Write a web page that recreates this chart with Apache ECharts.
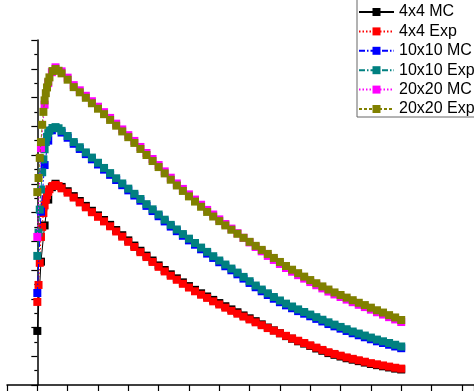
<!DOCTYPE html>
<html>
<head>
<meta charset="utf-8">
<script src="https://cdn.jsdelivr.net/npm/echarts@6/dist/echarts.min.js"></script>
<style>html,body{margin:0;padding:0;background:#fff;}#c{width:474px;height:391px;}</style>
</head>
<body>
<div id="c"></div>
<script>
// depth (x) positions
const expX = [0,0.1,0.2,0.3,0.4,0.5,0.6,0.7,0.8,0.9,1.0,1.25,1.5,1.75,
  2,2.5,3,3.5,4,4.5,5,5.5,6,6.5,7,7.5,8,8.5,9,9.5,10,10.5,11,11.5,12,12.5,13,13.5,14,14.5,15,15.5,16,16.5,17,17.5,18,18.5,19,19.5,20,20.5,21,21.5,22,22.5,23,23.5,24,24.5,25,25.5,26,26.5,27,27.5,28,28.5,29,29.5,30];
const mcX = [0,0.3,0.6,0.9,1.2,1.5,
  2,2.5,3,3.5,4,4.5,5,5.5,6,6.5,7,7.5,8,8.5,9,9.5,10,10.5,11,11.5,12,12.5,13,13.5,14,14.5,15,15.5,16,16.5,17,17.5,18,18.5,19,19.5,20,20.5,21,21.5,22,22.5,23,23.5,24,24.5,25,25.5,26,26.5,27,27.5,28,28.5,29,29.5,30];

const seriesNames = ['4x4 MC','4x4 Exp','10x10 MC','10x10 Exp','20x20 MC','20x20 Exp'];

const mc4 = [18.8,42.9,55.5,64.5,68.8,70.0,
  68.9,67.4,65.7,64.0,62.3,60.6,59.0,57.4,55.7,53.9,52.1,50.3,48.5,46.7,45.0,43.3,41.6,40.0,38.5,37.1,35.7,34.4,33.1,31.9,30.8,29.6,28.5,27.4,26.3,25.3,24.2,23.2,22.2,21.1,20.0,19.0,18.0,17.0,16.1,15.2,14.4,13.6,12.7,11.9,11.1,10.5,9.9,9.3,8.8,8.3,7.8,7.3,6.9,6.5,6.1,5.7,5.4];
const exp4 = [28.9,34.8,42.5,51.5,55.0,59.8,62.5,64.5,66.0,67.2,68.1,69.2,69.6,69.2,
  68.4,66.9,65.2,63.5,61.8,60.1,58.5,56.9,55.2,53.4,51.6,49.8,48.0,46.2,44.5,42.8,41.1,39.5,38.0,36.6,35.2,33.9,32.6,31.4,30.3,29.1,28.0,26.9,25.8,24.8,23.8,22.8,21.8,20.8,19.8,18.9,18.0,17.1,16.2,15.4,14.6,13.8,13.0,12.2,11.4,10.8,10.2,9.6,9.1,8.6,8.1,7.6,7.2,6.8,6.4,6.0,5.7];
const mc10 = [32.0,60.3,76.5,85.0,88.6,89.4,
  87.8,86.0,83.9,82.1,80.3,78.5,76.7,74.9,73.1,71.3,69.5,67.7,65.9,64.1,62.3,60.5,58.7,56.9,55.1,53.5,51.9,50.3,48.8,47.2,45.7,44.2,42.7,41.3,39.9,38.5,37.0,35.5,34.0,32.6,31.3,30.0,28.8,27.7,26.7,25.7,24.8,23.9,23.0,22.1,21.2,20.4,19.6,18.8,18.0,17.3,16.6,15.9,15.2,14.6,14.0,13.4,12.8];
const exp10 = [44.9,53.0,61.0,68.0,74.0,78.5,82.0,84.5,86.3,87.6,88.5,89.4,89.7,89.3,
  88.4,86.6,84.5,82.7,80.9,79.1,77.3,75.5,73.7,71.9,70.1,68.3,66.5,64.7,62.9,61.1,59.3,57.5,55.7,54.1,52.5,50.9,49.4,47.8,46.3,44.8,43.3,41.9,40.5,39.1,37.6,36.1,34.6,33.2,31.9,30.6,29.4,28.3,27.3,26.3,25.4,24.5,23.6,22.7,21.8,21.0,20.2,19.4,18.6,17.9,17.2,16.5,15.8,15.2,14.6,14.0,13.4];
const mc20 = [51.5,82.4,97.5,105.0,108.8,110.5,
  109.1,106.9,104.3,102.5,100.6,98.7,96.8,94.9,92.9,90.9,88.9,86.9,84.9,82.8,80.7,78.6,76.5,74.3,72.1,70.1,68.2,66.3,64.5,62.7,60.9,59.3,57.6,56.0,54.4,52.8,51.2,49.6,48.0,46.5,44.9,43.5,42.1,40.7,39.4,38.2,37.0,35.8,34.7,33.6,32.5,31.5,30.6,29.7,28.8,27.9,27.1,26.2,25.3,24.5,23.6,22.8,21.9];
const exp20 = [67.1,72.0,79.0,84.5,90.5,95.0,99.0,101.5,103.5,105.5,107.0,109.2,109.9,109.3,
  108.4,106.2,103.6,101.8,99.9,98.0,96.1,94.2,92.2,90.2,88.2,86.2,84.2,82.1,80.0,77.9,75.8,73.6,71.4,69.4,67.5,65.6,63.8,62.0,60.2,58.6,57.0,55.5,54.0,52.6,51.2,49.8,48.4,47.0,45.6,44.2,42.8,41.4,40.1,38.9,37.7,36.5,35.4,34.3,33.2,32.2,31.3,30.4,29.5,28.6,27.8,26.9,26.0,25.2,24.3,23.5,22.6];

const colors = ['#000000','#ff0000','#0000ff','#008080','#ff00ff','#808000'];
const lineTypes = ['solid',[1.5,2],[6,2,1.5,2],[6,2,1.5,2],[1.5,2],[3,2]];
const ys = [mc4, exp4, mc10, exp10, mc20, exp20];
const xs = [mcX, expX, mcX, expX, mcX, expX];

function pairs(x, y){ return x.map((v,i)=>[v,y[i]]); }

const chart = echarts.init(document.getElementById('c'), null, {renderer:'canvas'});
chart.setOption({
  animation:false,
  backgroundColor:'#ffffff',
  textStyle:{fontFamily:'"Liberation Sans", Arial, sans-serif'},
  grid:{left:7, right:0, top:40, bottom:6, containLabel:false},
  xAxis:{
    type:'value', min:-2.5, max:36, interval:2.5,
    axisLine:{show:true, lineStyle:{color:'#000', width:1.5}},
    axisTick:{show:true, length:6, inside:false, lineStyle:{color:'#000', width:1.2}},
    minorTick:{show:false},
    axisLabel:{show:false},
    splitLine:{show:false}
  },
  yAxis:{
    type:'value', min:0, max:120, interval:10,
    axisLine:{show:true, lineStyle:{color:'#000', width:1.5}},
    axisTick:{show:true, length:6, inside:false, lineStyle:{color:'#000', width:1.2}},
    minorTick:{show:true, splitNumber:2, length:3, lineStyle:{color:'#000', width:1.2}},
    axisLabel:{show:false},
    splitLine:{show:false}
  },
  legend:{
    orient:'vertical',
    left:357, top:-5,
    padding:[9,10,0,1],
    itemWidth:35, itemHeight:10, itemGap:3.4,
    borderColor:'#666', borderWidth:1,
    backgroundColor:'#fff',
    textStyle:{fontSize:16, color:'#000', lineHeight:14, fontFamily:'"Liberation Sans", Arial, sans-serif'},
    data:seriesNames
  },
  series: seriesNames.map((name,i)=>({
    name:name,
    type:'line',
    data:pairs(xs[i], ys[i]),
    symbol:'rect',
    symbolSize:8,
    showAllSymbol:true,
    itemStyle:{color:colors[i]},
    lineStyle:{color:colors[i], width:1, type:lineTypes[i]},
    emphasis:{disabled:true},
    z:2+i
  }))
});
</script>
</body>
</html>
